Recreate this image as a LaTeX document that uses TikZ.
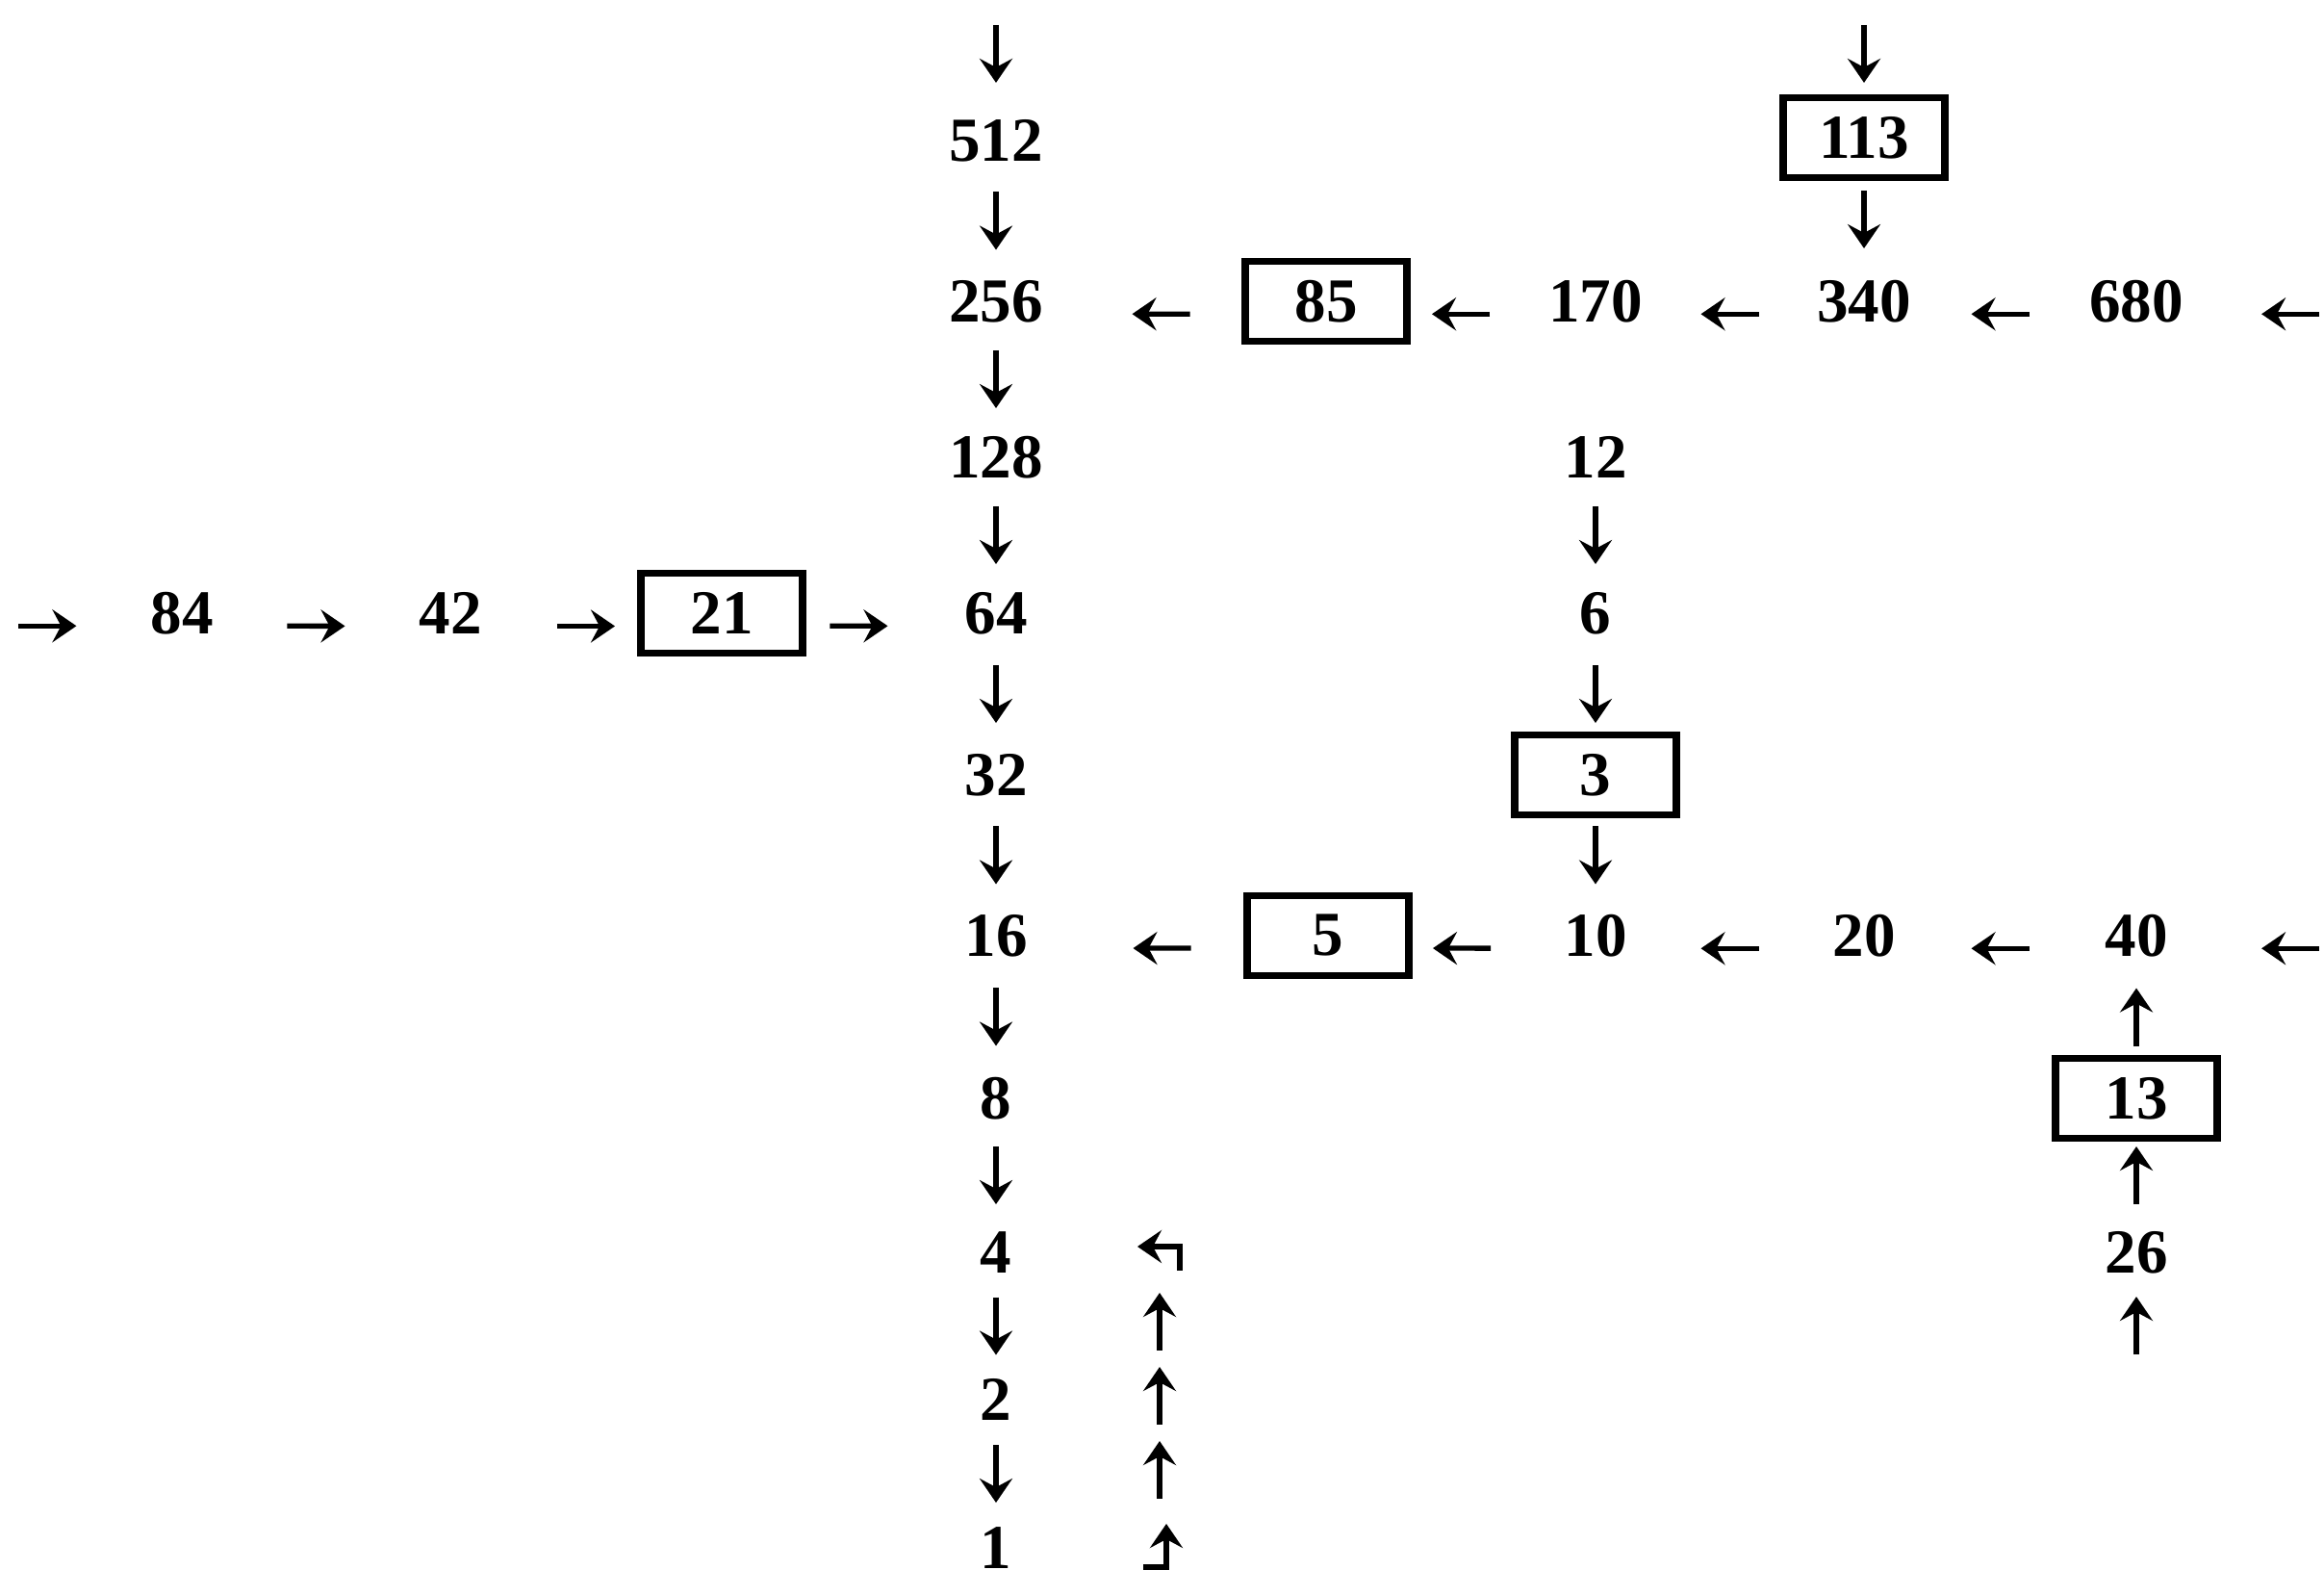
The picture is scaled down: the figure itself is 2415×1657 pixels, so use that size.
\documentclass[tikz,border=0pt]{standalone}
\usepackage{fontspec}
\setmainfont{Liberation Serif}
\usetikzlibrary{arrows.meta,decorations.markings}

\begin{document}
\begin{tikzpicture}[x=0.01cm, y=-0.01cm, font=\bfseries\fontsize{18.5}{22}\selectfont,
    num/.style={inner sep=0pt},
    boxed/.style={num, draw, line width=2.2pt, minimum width=1.68cm, minimum height=0.83cm},
    arr/.style={line width=1.5pt, -{Stealth[length=2.5mm, width=3.4mm, inset=0.9mm]}},
    conn/.style={postaction={decorate}, decoration={markings, mark=at position 0.5 with {\draw[arr] (-0.3cm,0) -- (0.3cm,0);}}},
]
\useasboundingbox (0,0) rectangle (2415,1657);

% main column
\node[num] (N512) at (1035,146) {512};
\node[num] (N256) at (1035,313) {256};
\node[num] (N128) at (1035,475) {128};
\node[num] (N64) at (1035,637) {64};
\node[num] (N32) at (1035,805) {32};
\node[num] (N16) at (1035,972) {16};
\node[num] (N8) at (1035,1141) {8};
\node[num] (N4) at (1035,1301) {4};
\node[num] (N2) at (1035,1454) {2};
\node[num] (N1) at (1035,1608) {1};

% left branch
\node[num] (N84) at (189,637) {84};
\node[num] (N42) at (468,637) {42};
\node[boxed] (N21) at (750,637) {21};

% upper right branch
\node[boxed] (N113) at (1937,143) {113};
\node[boxed] (N85) at (1378,313) {85};
\node[num] (N170) at (1658,313) {170};
\node[num] (N340) at (1937,313) {340};
\node[num] (N680) at (2220,313) {680};

% lower right branch
\node[num] (N12) at (1658,475) {12};
\node[num] (N6) at (1658,637) {6};
\node[boxed] (N3) at (1658,805) {3};
\node[num] (N10) at (1658,972) {10};
\node[boxed] (N5) at (1380,972) {5};
\node[num] (N20) at (1937,972) {20};
\node[num] (N40) at (2220,972) {40};
\node[boxed] (N13) at (2220,1141) {13};
\node[num] (N26) at (2220,1301) {26};

\coordinate (S512) at ([yshift=1.8cm]N512.center);
\coordinate (S113) at ([yshift=1.74cm]N113.center);
\coordinate (S84) at ([xshift=-2.79cm]N84.mid);
\coordinate (S680) at ([xshift=3.2cm]N680.mid);
\coordinate (S40) at ([xshift=3.2cm]N40.mid);
\coordinate (S26) at ([yshift=-1.52cm]N26.center);

\path[conn] (S512) -- (N512.center);
\path[conn] (N512.center) -- (N256.center);
\path[conn] (N256.center) -- (N128.center);
\path[conn] (N128.center) -- (N64.center);
\path[conn] (N64.center) -- (N32.center);
\path[conn] (N32.center) -- (N16.center);
\path[conn] (N16.center) -- (N8.center);
\path[conn] (N8.center) -- (N4.center);
\path[conn] (N4.center) -- (N2.center);
\path[conn] (N2.center) -- (N1.center);

\path[conn] (S84) -- (N84.mid);
\path[conn] (N84.mid) -- (N42.mid);
\path[conn] (N42.mid) -- (N21.mid);
\path[conn] (N21.mid) -- (N64.mid);

\path[conn] (S113) -- (N113.center);
\path[conn] (N113.center) -- (N340.center);
\path[conn] (S680) -- (N680.mid);
\path[conn] (N680.mid) -- (N340.mid);
\path[conn] (N340.mid) -- (N170.mid);
\path[conn] (N170.mid) -- (N85.mid);
\path[conn] (N85.mid) -- (N256.mid);

\path[conn] (N12.center) -- (N6.center);
\path[conn] (N6.center) -- (N3.center);
\path[conn] (N3.center) -- (N10.center);
\path[conn] (S40) -- (N40.mid);
\path[conn] (N40.mid) -- (N20.mid);
\path[conn] (N20.mid) -- (N10.mid);
\path[conn] (N10.mid) -- (N5.mid);
\path[conn] (N5.mid) -- (N16.mid);
\path[conn] (S26) -- (N26.center);
\path[conn] (N26.center) -- (N13.center);
\path[conn] (N13.center) -- (N40.center);

% loop from 1 back to 4
\coordinate (L1) at (1212,1628);
\coordinate (L4) at (1226,1295);
\draw[arr] ([xshift=-0.24cm]L1) -- (L1) -- ([yshift=0.45cm]L1);
\draw[arr] (1205,1403) -- (1205,1343);
\draw[arr] (1205,1480) -- (1205,1420);
\draw[arr] (1205,1557) -- (1205,1497);
\draw[arr] ([yshift=-0.25cm]L4) -- (L4) -- ([xshift=-0.44cm]L4);

\end{tikzpicture}
\end{document}
